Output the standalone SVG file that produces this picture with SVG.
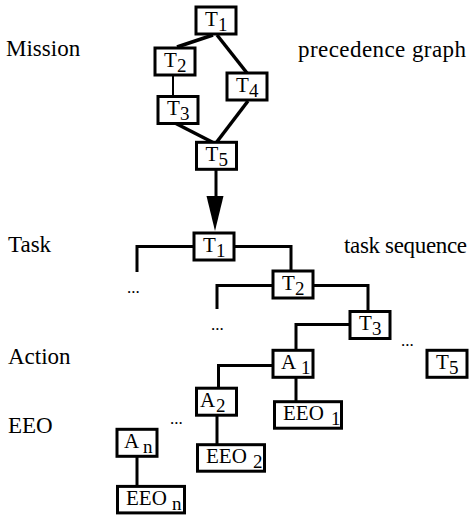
<svg xmlns="http://www.w3.org/2000/svg" width="474" height="520" viewBox="0 0 474 520">
<rect width="474" height="520" fill="#fff"/>
<g id="connectors" fill="none" stroke="#000" stroke-width="3">
<line stroke-width="3.5" x1="213" y1="35" x2="177" y2="47"/>
<line stroke-width="3.5" x1="217" y1="35" x2="247" y2="73"/>
<line stroke-width="2" x1="173" y1="75" x2="173" y2="97"/>
<line stroke-width="3.5" x1="173" y1="122" x2="214" y2="143"/>
<line stroke-width="3.5" x1="248" y1="101" x2="216" y2="143"/>
<line x1="216" y1="170" x2="216" y2="200"/>
<polygon points="206.5,196 223.5,196 215,231" fill="#000" stroke="none"/>
<path d="M194,246.5 H137 V272"/>
<path d="M234,246.5 H291 V271"/>
<path d="M273,285.5 H217 V309"/>
<path d="M313,285.5 H368 V312"/>
<path d="M350,324.5 H296 V350"/>
<path d="M273,365.5 H218.5 V388"/>
<line x1="296" y1="378" x2="296" y2="402"/>
<line x1="217" y1="416" x2="217" y2="445"/>
<line x1="137" y1="457" x2="137" y2="487"/>
</g>
<text x="6" y="56" font-family="Liberation Serif, serif" font-size="23">Mission</text>
<text x="298" y="56.5" font-family="Liberation Serif, serif" font-size="23" textLength="168">precedence graph</text>
<text x="8" y="252" font-family="Liberation Serif, serif" font-size="23">Task</text>
<text x="344" y="253" font-family="Liberation Serif, serif" font-size="23" textLength="123">task sequence</text>
<text x="8" y="364" font-family="Liberation Serif, serif" font-size="23">Action</text>
<text x="8" y="433" font-family="Liberation Serif, serif" font-size="23">EEO</text>
<text x="127" y="293" font-family="Liberation Serif, serif" font-size="17">...</text>
<text x="211" y="330" font-family="Liberation Serif, serif" font-size="17">...</text>
<text x="401" y="346" font-family="Liberation Serif, serif" font-size="17">...</text>
<text x="170" y="424" font-family="Liberation Serif, serif" font-size="17">...</text>
<g id="g-T1"><rect x="196" y="7" width="40" height="27" fill="#fff" stroke="#000" stroke-width="3"/><text x="205" y="25.5" font-family="Liberation Serif, serif" font-size="21">T</text><text x="218" y="30.5" font-family="Liberation Serif, serif" font-size="19">1</text></g>
<g id="g-T2"><rect x="155" y="48" width="40" height="27" fill="#fff" stroke="#000" stroke-width="3"/><text x="164" y="66.5" font-family="Liberation Serif, serif" font-size="21">T</text><text x="177" y="71.5" font-family="Liberation Serif, serif" font-size="19">2</text></g>
<g id="g-T4"><rect x="227" y="73" width="40" height="27" fill="#fff" stroke="#000" stroke-width="3"/><text x="236" y="91.5" font-family="Liberation Serif, serif" font-size="21">T</text><text x="249" y="96.5" font-family="Liberation Serif, serif" font-size="19">4</text></g>
<g id="g-T3"><rect x="158" y="96.5" width="40" height="27" fill="#fff" stroke="#000" stroke-width="3"/><text x="167" y="115" font-family="Liberation Serif, serif" font-size="21">T</text><text x="180" y="120" font-family="Liberation Serif, serif" font-size="19">3</text></g>
<g id="g-T5"><rect x="196.5" y="142.3" width="40" height="27" fill="#fff" stroke="#000" stroke-width="3"/><text x="205.5" y="160.8" font-family="Liberation Serif, serif" font-size="21">T</text><text x="218.5" y="165.8" font-family="Liberation Serif, serif" font-size="19">5</text></g>
<g id="s-T1"><rect x="194" y="233" width="40" height="27" fill="#fff" stroke="#000" stroke-width="3"/><text x="203" y="251.5" font-family="Liberation Serif, serif" font-size="21">T</text><text x="216" y="256.5" font-family="Liberation Serif, serif" font-size="19">1</text></g>
<g id="s-T2"><rect x="273" y="271" width="40" height="27" fill="#fff" stroke="#000" stroke-width="3"/><text x="282" y="289.5" font-family="Liberation Serif, serif" font-size="21">T</text><text x="295" y="294.5" font-family="Liberation Serif, serif" font-size="19">2</text></g>
<g id="s-T3"><rect x="350" y="311.5" width="40" height="27" fill="#fff" stroke="#000" stroke-width="3"/><text x="359" y="330" font-family="Liberation Serif, serif" font-size="21">T</text><text x="372" y="335" font-family="Liberation Serif, serif" font-size="19">3</text></g>
<g id="s-T5"><rect x="427" y="350.3" width="40" height="27" fill="#fff" stroke="#000" stroke-width="3"/><text x="436" y="368.8" font-family="Liberation Serif, serif" font-size="21">T</text><text x="449" y="373.8" font-family="Liberation Serif, serif" font-size="19">5</text></g>
<g id="A1"><rect x="273" y="350.3" width="40" height="27" fill="#fff" stroke="#000" stroke-width="3"/><text x="281" y="368.8" font-family="Liberation Serif, serif" font-size="21">A</text><text x="301" y="373.8" font-family="Liberation Serif, serif" font-size="19">1</text></g>
<g id="A2"><rect x="196.5" y="388.2" width="40" height="27" fill="#fff" stroke="#000" stroke-width="3"/><text x="200" y="406.7" font-family="Liberation Serif, serif" font-size="21">A</text><text x="216" y="411.7" font-family="Liberation Serif, serif" font-size="19">2</text></g>
<g id="An"><rect x="117" y="429.3" width="40" height="27" fill="#fff" stroke="#000" stroke-width="3"/><text x="124" y="447.8" font-family="Liberation Serif, serif" font-size="21">A</text><text x="143" y="452.8" font-family="Liberation Serif, serif" font-size="19">n</text></g>
<g id="EEO1"><rect x="274.5" y="401.7" width="67" height="26.5" fill="#fff" stroke="#000" stroke-width="3"/><text x="283" y="420" font-family="Liberation Serif, serif" font-size="21">EEO</text><text x="331" y="425" font-family="Liberation Serif, serif" font-size="19">1</text></g>
<g id="EEO2"><rect x="197.5" y="444.7" width="67" height="26.5" fill="#fff" stroke="#000" stroke-width="3"/><text x="206" y="463" font-family="Liberation Serif, serif" font-size="21">EEO</text><text x="253" y="468" font-family="Liberation Serif, serif" font-size="19">2</text></g>
<g id="EEOn"><rect x="117.5" y="486.4" width="67" height="26.5" fill="#fff" stroke="#000" stroke-width="3"/><text x="126" y="504.7" font-family="Liberation Serif, serif" font-size="21">EEO</text><text x="172" y="509.7" font-family="Liberation Serif, serif" font-size="19">n</text></g>
</svg>
